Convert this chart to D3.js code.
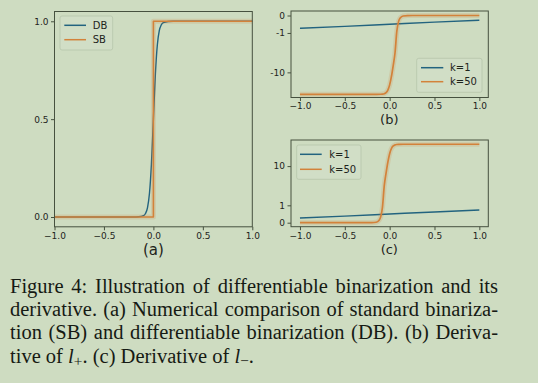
<!DOCTYPE html>
<html><head><meta charset="utf-8">
<script src="https://cdn.jsdelivr.net/npm/d3@7"></script>
<style>
body{margin:0;background:#cedcc1;}
svg{display:block;}
.ax text{font-family:"DejaVu Sans";font-size:9px;fill:#1e241c;}
.ax path,.ax line{stroke:#46513f;}
</style>
</head><body>
<svg id="c" width="538" height="383"></svg>
<script>
// ---------- data ----------
// (a) differentiable binarization (DB) and standard binarization (SB)
const dbX = [-1, -0.2, -0.15, -0.1, -0.08, -0.06, -0.04, -0.02, 0, 0.02, 0.04, 0.06, 0.08, 0.1, 0.15, 0.2, 1];
const dbY = [0, 0, 0.001, 0.007, 0.018, 0.047, 0.12, 0.27, 0.5, 0.73, 0.88, 0.953, 0.982, 0.993, 0.999, 1, 1];
const sbX = [-1, 0, 0, 1];
const sbY = [0, 0, 1, 1];
// (b) derivative of l+
const bK1X = [-1, -0.5, 0, 0.5, 1];
const bK1Y = [-0.73, -0.62, -0.5, -0.38, -0.27];
const bK50X = [-1, -0.2, -0.15, -0.1, -0.08, -0.06, -0.04, -0.02, 0, 0.02, 0.04, 0.06, 0.08, 0.1, 0.12, 0.15, 0.2, 0.3, 1];
const bK50Y = [-50, -50, -49.97, -49.67, -49.1, -47.63, -44.04, -36.55, -25, -13.45, -5.96, -2.37, -0.9, -0.335, -0.124, -0.028, -0.0023, 0, 0];
// (c) derivative of l-
const cK1X = [-1, -0.5, 0, 0.5, 1];
const cK1Y = [0.27, 0.38, 0.5, 0.62, 0.73];
const cK50X = [-1, -0.3, -0.2, -0.15, -0.12, -0.1, -0.08, -0.06, -0.04, -0.02, 0, 0.02, 0.04, 0.06, 0.08, 0.1, 0.15, 0.2, 1];
const cK50Y = [0, 0, 0.0023, 0.028, 0.124, 0.335, 0.9, 2.37, 5.96, 13.45, 25, 36.55, 44.04, 47.63, 49.1, 49.67, 49.97, 50, 50];
// ticks
const xTicksA = [-1, -0.5, 0, 0.5, 1];
const yTicksA = [0, 0.5, 1];
const xTicksBC = [-1, -0.5, 0, 0.5, 1];
const yTicksB = [0, -1, -10];
const yTickLabelsB = ["0", "-1", "-10"];
const yTicksC = [0, 1, 10];
const yTickLabelsC = ["0", "1", "10"];
const legendA = ["DB", "SB"];
const legendBC = ["k=1", "k=50"];
const caption = [
  "Figure 4: Illustration of differentiable binarization and its",
  "derivative. (a) Numerical comparison of standard binariza-",
  "tion (SB) and differentiable binarization (DB). (b) Deriva-"
];

// ---------- style ----------
const BLUE = "#22637f", ORANGE = "#d3823a", FRAME = "#46513f";
const svg = d3.select("#c");
svg.append("rect").attr("width",538).attr("height",383).attr("fill","#cedcc1");

// matplotlib-style symlog (linthresh 2, linscale 1, base 10)
const LT = 2, LS = 1/(1-0.1);
const symlog = v => Math.abs(v) <= LT ? v*LS : Math.sign(v)*LT*(LS + Math.log10(Math.abs(v)/LT));

function frame(x0,x1,y0,y1){
  svg.append("rect").attr("x",x0).attr("y",y0).attr("width",x1-x0).attr("height",y1-y0)
    .attr("fill","none").attr("stroke",FRAME).attr("stroke-width",1);
}
function drawLine(xs, ys, X, Y, color, w, curve){
  const pts = xs.map((d,i)=>[X(d), Y(ys[i])]);
  const gen = d3.line().curve(curve||d3.curveMonotoneX);
  if(color===ORANGE){
    svg.append("path").attr("d",gen(pts)).attr("fill","none").attr("stroke",ORANGE)
      .attr("stroke-width",5).attr("stroke-opacity",0.18).attr("stroke-linejoin","round");
  }
  svg.append("path").attr("d",gen(pts)).attr("fill","none").attr("stroke",color)
    .attr("stroke-width",w).attr("stroke-linejoin","round");
}
function legend(x0,y0,w,h,labels,colors,lx0,lx1,ly,tx){
  svg.append("rect").attr("x",x0).attr("y",y0).attr("width",w).attr("height",h).attr("rx",2)
    .attr("fill","#d1dec6").attr("stroke","#b6c5ab").attr("stroke-width",0.8);
  labels.forEach((l,i)=>{
    svg.append("line").attr("x1",lx0).attr("x2",lx1).attr("y1",ly[i]).attr("y2",ly[i])
      .attr("stroke",colors[i]).attr("stroke-width",1.5);
    svg.append("text").attr("x",tx).attr("y",ly[i]+3.6).text(l)
      .attr("font-family","DejaVu Sans").attr("font-size",10).attr("fill","#1e241c");
  });
}
function xAxis(X, y, ticks){
  const g = svg.append("g").attr("class","ax").attr("transform",`translate(0,${y})`)
    .call(d3.axisBottom(X).tickValues(ticks).tickSize(3.5).tickPadding(2).tickFormat(d3.format(".1f")));
  g.select(".domain").remove();
}
function yAxis(Y, x, vals, labels){
  const g = svg.append("g").attr("class","ax").attr("transform",`translate(${x},0)`)
    .call(d3.axisLeft(Y).tickValues(vals).tickSize(3.5).tickPadding(2.5).tickFormat((d,i)=>labels[i]));
  g.select(".domain").remove();
}
function panelLabel(t,x,y,fs){
  svg.append("text").attr("x",x).attr("y",y).attr("text-anchor","middle").text(t)
    .attr("font-family","DejaVu Sans").attr("font-size",fs).attr("fill","#1e241c");
}

// ---------- panel (a) ----------
const xA = d3.scaleLinear().domain([-1,1]).range([54.5,252.3]);
const yA = d3.scaleLinear().domain([-0.05,1.05]).range([226.8,11.5]);
drawLine(dbX, dbY, xA, yA, BLUE, 1.4);
drawLine(sbX, sbY, xA, yA, ORANGE, 1.6, d3.curveLinear);
frame(54.5,252.3,11.5,226.8);
xAxis(xA, 226.8, xTicksA);
yAxis(yA, 54.5, yTicksA, yTicksA.map(d3.format(".1f")));
legend(60,16,52.7,34,legendA,[BLUE,ORANGE],64.3,86,[25.3,39.7],92.7);
panelLabel("(a)",153.4,254.5,15);

// ---------- panel (b) ----------
const xB = d3.scaleLinear().domain([-1.1,1.1]).range([291,488.3]);
const yBl = d3.scaleLinear().domain([-5.22,0.287]).range([97.5,11]);
const yB = v => yBl(symlog(v));
drawLine(bK1X, bK1Y, xB, yB, BLUE, 1.4);
drawLine(bK50X, bK50Y, xB, yB, ORANGE, 1.7);
frame(291,488.3,11,97.5);
xAxis(xB, 97.5, xTicksBC);
yAxis(yBl, 291, yTicksB.map(symlog), yTickLabelsB);
legend(416.7,58.3,65.3,34,legendBC,[BLUE,ORANGE],421,443.3,[67.7,81.7],450);
panelLabel("(b)",389.3,124,13);

// ---------- panel (c) ----------
const xC = d3.scaleLinear().domain([-1.1,1.1]).range([291,488.3]);
const yCl = d3.scaleLinear().domain([-0.256,5.29]).range([226.7,140]);
const yC = v => yCl(symlog(v));
drawLine(cK1X, cK1Y, xC, yC, BLUE, 1.4);
drawLine(cK50X, cK50Y, xC, yC, ORANGE, 1.7);
frame(291,488.3,140,226.7);
xAxis(xC, 226.7, xTicksBC);
yAxis(yCl, 291, yTicksC.map(symlog), yTickLabelsC);
legend(296.7,145,64.3,34.3,legendBC,[BLUE,ORANGE],300,321.7,[154.3,169.3],329.3);
panelLabel("(c)",389.3,253.5,13);

// ---------- caption (justified word by word) ----------
const FS = 20.5, LEFT = 10, RIGHT = 498;
const base = [293, 316.2, 339.4, 362.6];
const capFont = sel => sel.attr("font-family","Liberation Serif").attr("font-size",FS).attr("fill","#161a14");
caption.forEach((s,i)=>{
  const words = s.split(" ");
  const g = svg.append("g");
  const nodes = words.map(w => capFont(g.append("text").attr("y",base[i]).text(w)));
  const widths = nodes.map(n => n.node().getComputedTextLength());
  const gap = (RIGHT - LEFT - d3.sum(widths)) / (words.length - 1);
  let x = LEFT;
  nodes.forEach((n,j)=>{ n.attr("x", x); x += widths[j] + gap; });
});
const t4 = capFont(svg.append("text").attr("x",LEFT).attr("y",base[3]));
t4.append("tspan").text("tive of ");
t4.append("tspan").attr("font-style","italic").text("l");
t4.append("tspan").attr("font-size",FS*0.75).attr("dy",3.5).text("+");
t4.append("tspan").attr("dy",-3.5).text(". (c) Derivative of ");
t4.append("tspan").attr("font-style","italic").text("l");
t4.append("tspan").attr("font-size",FS*0.75).attr("dy",3.5).text("−");
t4.append("tspan").attr("dy",-3.5).text(".");
</script>
</body></html>
